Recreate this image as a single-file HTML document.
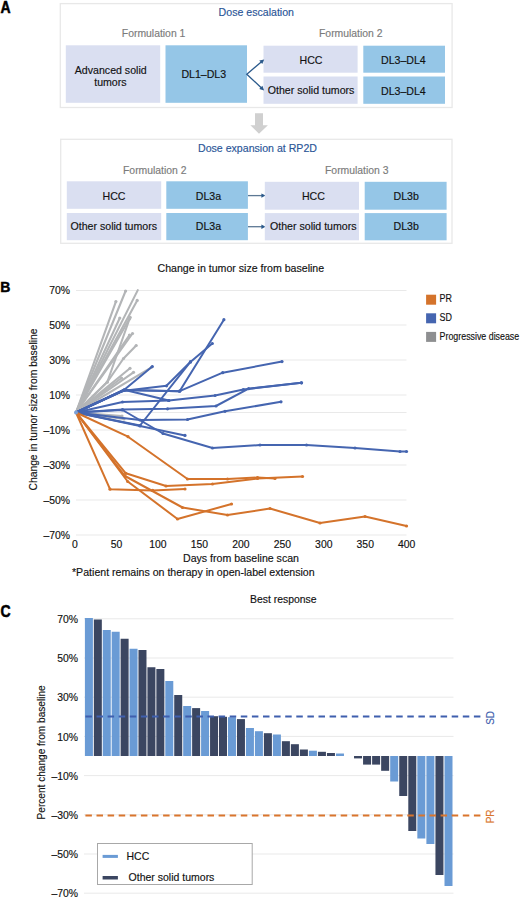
<!DOCTYPE html>
<html><head><meta charset="utf-8">
<style>
html,body{margin:0;padding:0;background:#fff;}
body{width:520px;height:900px;overflow:hidden;}
svg{display:block;font-family:"Liberation Sans",sans-serif;}
text{stroke-width:0.15px;}
</style></head><body>
<svg width="520" height="900" viewBox="0 0 520 900">
<!-- PANEL A -->
<g id="A">
<text transform="translate(0.6,12.9) scale(1,1.12)" font-size="14" font-weight="bold" fill="#000" stroke="#000" style="stroke-width:0.45px">A</text>
<rect x="60.3" y="3.6" width="391.8" height="103.9" fill="#fff" stroke="#e8e8e8" stroke-width="1.3"/>
<rect x="65.8" y="45.3" width="94.4" height="57.5" fill="#dadff1"/>
<rect x="165.5" y="45.3" width="81.5" height="57.5" fill="#95c6e7"/>
<rect x="263.5" y="45.7" width="94.1" height="27" fill="#dadff1"/>
<rect x="263.5" y="76.5" width="94.1" height="27.3" fill="#dadff1"/>
<rect x="363.3" y="45.7" width="81.7" height="27" fill="#95c6e7"/>
<rect x="363.3" y="76.5" width="81.7" height="27.3" fill="#95c6e7"/>
<text x="218.6" y="15.80" font-size="10.6" fill="#2a5597" stroke="#2a5597">Dose escalation</text>
<text x="121.8" y="36.90" font-size="10.4" fill="#7b7b7b" stroke="#7b7b7b">Formulation 1</text>
<text x="319" y="36.90" font-size="10.4" fill="#7b7b7b" stroke="#7b7b7b">Formulation 2</text>
<text x="74.8" y="74.20" font-size="10.6" fill="#111" stroke="#111">Advanced solid</text>
<text x="94.2" y="86.40" font-size="10.6" fill="#111" stroke="#111">tumors</text>
<text x="181.4" y="78.40" font-size="10.6" fill="#111" stroke="#111">DL1–DL3</text>
<text x="299.5" y="64.00" font-size="10.6" fill="#111" stroke="#111">HCC</text>
<text x="267.8" y="94.20" font-size="10.6" fill="#111" stroke="#111">Other solid tumors</text>
<text x="381" y="64.40" font-size="10.6" fill="#111" stroke="#111">DL3–DL4</text>
<text x="381" y="94.60" font-size="10.6" fill="#111" stroke="#111">DL3–DL4</text>
<g stroke="#2b5a8c" stroke-width="1.3" fill="none">
<path d="M261.5 61.7 L246.8 74.2 L261.5 87.9"/>
<line x1="248" y1="195.6" x2="262" y2="195.6" stroke="#5d7894"/>
<line x1="248" y1="226.7" x2="262" y2="226.7" stroke="#5d7894"/>
</g>
<g fill="#2b5a8c">
<polygon points="264.2,59.4 262.25,64.07 259.27,60.55"/>
<polygon points="264.1,90.4 259.24,89.01 262.38,85.65"/>
<polygon points="265.6,195.6 261.4,193.4 261.4,197.8"/>
<polygon points="265.6,226.7 261.4,224.5 261.4,228.9"/>
</g>
<path d="M255 113.3 H263 V125.2 H267.9 L259 133.8 L250.4 125.2 H255 Z" fill="#d0d0d0"/>
<rect x="60.7" y="139.3" width="391.3" height="104" fill="none" stroke="#e8e8e8" stroke-width="1.3"/>
<rect x="66.8" y="181.3" width="94.4" height="27.5" fill="#dadff1"/>
<rect x="66.8" y="213" width="94.4" height="27.2" fill="#dadff1"/>
<rect x="166.3" y="181.3" width="81.6" height="27.5" fill="#95c6e7"/>
<rect x="166.3" y="213" width="81.6" height="27.2" fill="#95c6e7"/>
<rect x="264.8" y="181.8" width="94.2" height="27.9" fill="#dadff1"/>
<rect x="264.8" y="213.1" width="94.2" height="27.2" fill="#dadff1"/>
<rect x="364.7" y="181.8" width="81.9" height="27.9" fill="#95c6e7"/>
<rect x="364.7" y="213.1" width="81.9" height="27.2" fill="#95c6e7"/>
<text x="198" y="152.00" font-size="10.6" fill="#2a5597" stroke="#2a5597">Dose expansion at RP2D</text>
<text x="123" y="173.80" font-size="10.4" fill="#7b7b7b" stroke="#7b7b7b">Formulation 2</text>
<text x="325" y="173.80" font-size="10.4" fill="#7b7b7b" stroke="#7b7b7b">Formulation 3</text>
<text x="102.5" y="200.00" font-size="10.6" fill="#111" stroke="#111">HCC</text>
<text x="70.5" y="230.00" font-size="10.6" fill="#111" stroke="#111">Other solid tumors</text>
<text x="195.75" y="200.00" font-size="10.6" fill="#111" stroke="#111">DL3a</text>
<text x="195.75" y="230.00" font-size="10.6" fill="#111" stroke="#111">DL3a</text>
<text x="301.9" y="200.00" font-size="10.6" fill="#111" stroke="#111">HCC</text>
<text x="270" y="230.00" font-size="10.6" fill="#111" stroke="#111">Other solid tumors</text>
<text x="393.5" y="199.90" font-size="10.6" fill="#111" stroke="#111">DL3b</text>
<text x="393.5" y="229.90" font-size="10.6" fill="#111" stroke="#111">DL3b</text>
</g>
<g id="B">
<text transform="translate(0.3,292.2) scale(1,1.1)" font-size="14" font-weight="bold" fill="#000" stroke="#000" style="stroke-width:0.45px">B</text>
<text x="157.5" y="271.5" font-size="10.6" fill="#111" stroke="#111">Change in tumor size from baseline</text>
<line x1="76" y1="290.5" x2="406.5" y2="290.5" stroke="#e9e9e9" stroke-width="1"/>
<line x1="76" y1="325" x2="406.5" y2="325" stroke="#e9e9e9" stroke-width="1"/>
<line x1="76" y1="360" x2="406.5" y2="360" stroke="#e9e9e9" stroke-width="1"/>
<line x1="76" y1="395" x2="406.5" y2="395" stroke="#e9e9e9" stroke-width="1"/>
<line x1="76" y1="412.5" x2="406.5" y2="412.5" stroke="#e9e9e9" stroke-width="1"/>
<line x1="76" y1="430" x2="406.5" y2="430" stroke="#e9e9e9" stroke-width="1"/>
<line x1="76" y1="465" x2="406.5" y2="465" stroke="#e9e9e9" stroke-width="1"/>
<line x1="76" y1="500" x2="406.5" y2="500" stroke="#e9e9e9" stroke-width="1"/>
<line x1="76" y1="535" x2="406.5" y2="535" stroke="#e9e9e9" stroke-width="1"/>
<text x="70" y="294.3" font-size="10.4" fill="#111" text-anchor="end" stroke="#111">70%</text>
<text x="70" y="328.8" font-size="10.4" fill="#111" text-anchor="end" stroke="#111">50%</text>
<text x="70" y="363.8" font-size="10.4" fill="#111" text-anchor="end" stroke="#111">30%</text>
<text x="70" y="398.8" font-size="10.4" fill="#111" text-anchor="end" stroke="#111">10%</text>
<text x="70" y="433.8" font-size="10.4" fill="#111" text-anchor="end" stroke="#111">–10%</text>
<text x="70" y="468.8" font-size="10.4" fill="#111" text-anchor="end" stroke="#111">–30%</text>
<text x="70" y="503.8" font-size="10.4" fill="#111" text-anchor="end" stroke="#111">–50%</text>
<text x="70" y="538.8" font-size="10.4" fill="#111" text-anchor="end" stroke="#111">–70%</text>
<text x="75.0" y="547.9" font-size="10.4" fill="#111" text-anchor="middle" stroke="#111">0</text>
<text x="116.465" y="547.9" font-size="10.4" fill="#111" text-anchor="middle" stroke="#111">50</text>
<text x="157.93" y="547.9" font-size="10.4" fill="#111" text-anchor="middle" stroke="#111">100</text>
<text x="199.395" y="547.9" font-size="10.4" fill="#111" text-anchor="middle" stroke="#111">150</text>
<text x="240.86" y="547.9" font-size="10.4" fill="#111" text-anchor="middle" stroke="#111">200</text>
<text x="282.32500000000005" y="547.9" font-size="10.4" fill="#111" text-anchor="middle" stroke="#111">250</text>
<text x="323.79" y="547.9" font-size="10.4" fill="#111" text-anchor="middle" stroke="#111">300</text>
<text x="365.255" y="547.9" font-size="10.4" fill="#111" text-anchor="middle" stroke="#111">350</text>
<text x="406.72" y="547.9" font-size="10.4" fill="#111" text-anchor="middle" stroke="#111">400</text>
<text x="241" y="561.8" font-size="10.6" fill="#111" text-anchor="middle" stroke="#111">Days from baseline scan</text>
<text x="72" y="576.3" font-size="10.6" fill="#111" stroke="#111">*Patient remains on therapy in open-label extension</text>
<text transform="translate(36.9,409.5) rotate(-90)" font-size="10.3" fill="#111" text-anchor="middle" stroke="#111">Change in tumor size from baseline</text>
<polyline points="76.0,412.5 125.6,291.0" fill="none" stroke="#b3b5b7" stroke-width="2.1" stroke-linejoin="round" stroke-linecap="round"/><circle cx="125.6" cy="291.0" r="1.6" fill="#b3b5b7"/>
<polyline points="76.0,412.5 137.8,290.1" fill="none" stroke="#b3b5b7" stroke-width="2.1" stroke-linejoin="round" stroke-linecap="round"/>
<polyline points="76.0,412.5 115.9,301.6" fill="none" stroke="#b3b5b7" stroke-width="2.1" stroke-linejoin="round" stroke-linecap="round"/><circle cx="115.9" cy="301.6" r="1.6" fill="#b3b5b7"/>
<polyline points="76.0,412.5 137.2,300.4" fill="none" stroke="#b3b5b7" stroke-width="2.1" stroke-linejoin="round" stroke-linecap="round"/><circle cx="137.2" cy="300.4" r="1.6" fill="#b3b5b7"/>
<polyline points="76.0,412.5 119.8,318.0" fill="none" stroke="#b3b5b7" stroke-width="2.1" stroke-linejoin="round" stroke-linecap="round"/><circle cx="119.8" cy="318.0" r="1.6" fill="#b3b5b7"/>
<polyline points="76.0,412.5 130.2,317.4" fill="none" stroke="#b3b5b7" stroke-width="2.1" stroke-linejoin="round" stroke-linecap="round"/><circle cx="130.2" cy="317.4" r="1.6" fill="#b3b5b7"/>
<polyline points="76.0,412.5 132.5,333.5" fill="none" stroke="#b3b5b7" stroke-width="2.1" stroke-linejoin="round" stroke-linecap="round"/><circle cx="132.5" cy="333.5" r="1.6" fill="#b3b5b7"/>
<polyline points="76.0,412.5 129.5,335.0" fill="none" stroke="#b3b5b7" stroke-width="2.1" stroke-linejoin="round" stroke-linecap="round"/><circle cx="129.5" cy="335.0" r="1.6" fill="#b3b5b7"/>
<polyline points="76.0,412.5 130.0,368.3" fill="none" stroke="#b3b5b7" stroke-width="2.1" stroke-linejoin="round" stroke-linecap="round"/><circle cx="130.0" cy="368.3" r="1.6" fill="#b3b5b7"/>
<polyline points="76.0,412.5 133.5,372.3" fill="none" stroke="#b3b5b7" stroke-width="2.1" stroke-linejoin="round" stroke-linecap="round"/><circle cx="133.5" cy="372.3" r="1.6" fill="#b3b5b7"/>
<polyline points="76.0,412.5 122.0,416.0" fill="none" stroke="#b3b5b7" stroke-width="2.1" stroke-linejoin="round" stroke-linecap="round"/><circle cx="122.0" cy="416.0" r="1.6" fill="#b3b5b7"/>
<polyline points="76.0,412.5 107.3,382.0 129.5,319.0" fill="none" stroke="#b3b5b7" stroke-width="2.1" stroke-linejoin="round" stroke-linecap="round"/><circle cx="107.3" cy="382.0" r="1.6" fill="#b3b5b7"/><circle cx="129.5" cy="319.0" r="1.6" fill="#b3b5b7"/>
<polyline points="76.0,412.5 107.3,382.0 123.5,358.5 136.2,345.5" fill="none" stroke="#b3b5b7" stroke-width="2.1" stroke-linejoin="round" stroke-linecap="round"/><circle cx="107.3" cy="382.0" r="1.6" fill="#b3b5b7"/><circle cx="123.5" cy="358.5" r="1.6" fill="#b3b5b7"/><circle cx="136.2" cy="345.5" r="1.6" fill="#b3b5b7"/>
<polyline points="76.0,412.5 151.5,367.3" fill="none" stroke="#b3b5b7" stroke-width="2.1" stroke-linejoin="round" stroke-linecap="round"/><circle cx="151.5" cy="367.3" r="1.6" fill="#b3b5b7"/>
<polyline points="76.0,412.5 124.0,419.0" fill="none" stroke="#b3b5b7" stroke-width="2.1" stroke-linejoin="round" stroke-linecap="round"/><circle cx="124.0" cy="419.0" r="1.6" fill="#b3b5b7"/>
<polyline points="76.0,412.5 121.5,378.0" fill="none" stroke="#b3b5b7" stroke-width="2.1" stroke-linejoin="round" stroke-linecap="round"/><circle cx="121.5" cy="378.0" r="1.6" fill="#b3b5b7"/>
<polyline points="76.0,412.5 124.0,390.0 152.3,366.5" fill="none" stroke="#4565b0" stroke-width="2.0" stroke-linejoin="round" stroke-linecap="round"/><circle cx="124.0" cy="390.0" r="1.6" fill="#4565b0"/><circle cx="152.3" cy="366.5" r="1.6" fill="#4565b0"/>
<polyline points="76.0,412.5 124.0,390.0 179.6,391.2 223.9,319.7" fill="none" stroke="#4565b0" stroke-width="2.0" stroke-linejoin="round" stroke-linecap="round"/><circle cx="124.0" cy="390.0" r="1.6" fill="#4565b0"/><circle cx="179.6" cy="391.2" r="1.6" fill="#4565b0"/><circle cx="223.9" cy="319.7" r="1.6" fill="#4565b0"/>
<polyline points="76.0,412.5 124.0,390.0 179.6,391.2 222.7,372.7 282.0,361.6" fill="none" stroke="#4565b0" stroke-width="2.0" stroke-linejoin="round" stroke-linecap="round"/><circle cx="124.0" cy="390.0" r="1.6" fill="#4565b0"/><circle cx="179.6" cy="391.2" r="1.6" fill="#4565b0"/><circle cx="222.7" cy="372.7" r="1.6" fill="#4565b0"/><circle cx="282.0" cy="361.6" r="1.6" fill="#4565b0"/>
<polyline points="76.0,412.5 140.0,425.5 190.4,361.9 212.3,343.5" fill="none" stroke="#4565b0" stroke-width="2.0" stroke-linejoin="round" stroke-linecap="round"/><circle cx="140.0" cy="425.5" r="1.6" fill="#4565b0"/><circle cx="190.4" cy="361.9" r="1.6" fill="#4565b0"/><circle cx="212.3" cy="343.5" r="1.6" fill="#4565b0"/>
<polyline points="76.0,412.5 122.0,391.0 166.5,385.8 190.4,361.9" fill="none" stroke="#4565b0" stroke-width="2.0" stroke-linejoin="round" stroke-linecap="round"/><circle cx="122.0" cy="391.0" r="1.6" fill="#4565b0"/><circle cx="166.5" cy="385.8" r="1.6" fill="#4565b0"/><circle cx="190.4" cy="361.9" r="1.6" fill="#4565b0"/>
<polyline points="76.0,412.5 125.0,390.0 168.8,400.5 215.0,395.5 243.4,389.5 301.5,382.8" fill="none" stroke="#4565b0" stroke-width="2.0" stroke-linejoin="round" stroke-linecap="round"/><circle cx="125.0" cy="390.0" r="1.6" fill="#4565b0"/><circle cx="168.8" cy="400.5" r="1.6" fill="#4565b0"/><circle cx="215.0" cy="395.5" r="1.6" fill="#4565b0"/><circle cx="243.4" cy="389.5" r="1.6" fill="#4565b0"/><circle cx="301.5" cy="382.8" r="1.6" fill="#4565b0"/>
<polyline points="76.0,412.5 122.5,402.0 168.8,400.5" fill="none" stroke="#4565b0" stroke-width="2.0" stroke-linejoin="round" stroke-linecap="round"/><circle cx="122.5" cy="402.0" r="1.6" fill="#4565b0"/><circle cx="168.8" cy="400.5" r="1.6" fill="#4565b0"/>
<polyline points="76.0,412.5 122.5,409.5 167.5,408.8 216.0,406.0 248.6,388.7 301.5,382.8" fill="none" stroke="#4565b0" stroke-width="2.0" stroke-linejoin="round" stroke-linecap="round"/><circle cx="122.5" cy="409.5" r="1.6" fill="#4565b0"/><circle cx="167.5" cy="408.8" r="1.6" fill="#4565b0"/><circle cx="216.0" cy="406.0" r="1.6" fill="#4565b0"/><circle cx="248.6" cy="388.7" r="1.6" fill="#4565b0"/><circle cx="301.5" cy="382.8" r="1.6" fill="#4565b0"/>
<polyline points="76.0,412.5 140.0,420.0 187.5,419.5 225.0,411.3 281.0,401.8" fill="none" stroke="#4565b0" stroke-width="2.0" stroke-linejoin="round" stroke-linecap="round"/><circle cx="140.0" cy="420.0" r="1.6" fill="#4565b0"/><circle cx="187.5" cy="419.5" r="1.6" fill="#4565b0"/><circle cx="225.0" cy="411.3" r="1.6" fill="#4565b0"/><circle cx="281.0" cy="401.8" r="1.6" fill="#4565b0"/>
<polyline points="76.0,412.5 140.0,426.0 185.0,435.4" fill="none" stroke="#4565b0" stroke-width="2.0" stroke-linejoin="round" stroke-linecap="round"/><circle cx="140.0" cy="426.0" r="1.6" fill="#4565b0"/><circle cx="185.0" cy="435.4" r="1.6" fill="#4565b0"/>
<polyline points="76.0,412.5 122.5,410.0 163.0,433.5 212.5,448.0 260.0,445.0 306.5,445.0 355.0,448.0 400.0,451.5 406.5,451.5" fill="none" stroke="#4565b0" stroke-width="2.0" stroke-linejoin="round" stroke-linecap="round"/><circle cx="122.5" cy="410.0" r="1.6" fill="#4565b0"/><circle cx="163.0" cy="433.5" r="1.6" fill="#4565b0"/><circle cx="212.5" cy="448.0" r="1.6" fill="#4565b0"/><circle cx="260.0" cy="445.0" r="1.6" fill="#4565b0"/><circle cx="306.5" cy="445.0" r="1.6" fill="#4565b0"/><circle cx="355.0" cy="448.0" r="1.6" fill="#4565b0"/><circle cx="400.0" cy="451.5" r="1.6" fill="#4565b0"/><circle cx="406.5" cy="451.5" r="1.6" fill="#4565b0"/>
<polyline points="76.0,412.5 128.0,436.7 187.5,479.0 227.5,479.0 257.5,477.5 275.0,478.5" fill="none" stroke="#d4732b" stroke-width="2.0" stroke-linejoin="round" stroke-linecap="round"/><circle cx="128.0" cy="436.7" r="1.6" fill="#d4732b"/><circle cx="187.5" cy="479.0" r="1.6" fill="#d4732b"/><circle cx="227.5" cy="479.0" r="1.6" fill="#d4732b"/><circle cx="257.5" cy="477.5" r="1.6" fill="#d4732b"/><circle cx="275.0" cy="478.5" r="1.6" fill="#d4732b"/>
<polyline points="76.0,412.5 110.0,489.2 152.7,490.4 185.0,489.0" fill="none" stroke="#d4732b" stroke-width="2.0" stroke-linejoin="round" stroke-linecap="round"/><circle cx="110.0" cy="489.2" r="1.6" fill="#d4732b"/><circle cx="152.7" cy="490.4" r="1.6" fill="#d4732b"/><circle cx="185.0" cy="489.0" r="1.6" fill="#d4732b"/>
<polyline points="76.0,412.5 125.8,473.3 166.0,486.0 212.5,484.0 257.5,478.5 302.5,476.5" fill="none" stroke="#d4732b" stroke-width="2.0" stroke-linejoin="round" stroke-linecap="round"/><circle cx="125.8" cy="473.3" r="1.6" fill="#d4732b"/><circle cx="166.0" cy="486.0" r="1.6" fill="#d4732b"/><circle cx="212.5" cy="484.0" r="1.6" fill="#d4732b"/><circle cx="257.5" cy="478.5" r="1.6" fill="#d4732b"/><circle cx="302.5" cy="476.5" r="1.6" fill="#d4732b"/>
<polyline points="76.0,412.5 127.7,481.5 177.5,519.0 231.5,504.0" fill="none" stroke="#d4732b" stroke-width="2.0" stroke-linejoin="round" stroke-linecap="round"/><circle cx="127.7" cy="481.5" r="1.6" fill="#d4732b"/><circle cx="177.5" cy="519.0" r="1.6" fill="#d4732b"/><circle cx="231.5" cy="504.0" r="1.6" fill="#d4732b"/>
<polyline points="76.0,412.5 125.0,476.0 182.5,507.5 227.5,515.0 270.0,508.5 320.0,523.0 365.0,516.5 406.5,526.0" fill="none" stroke="#d4732b" stroke-width="2.0" stroke-linejoin="round" stroke-linecap="round"/><circle cx="125.0" cy="476.0" r="1.6" fill="#d4732b"/><circle cx="182.5" cy="507.5" r="1.6" fill="#d4732b"/><circle cx="227.5" cy="515.0" r="1.6" fill="#d4732b"/><circle cx="270.0" cy="508.5" r="1.6" fill="#d4732b"/><circle cx="320.0" cy="523.0" r="1.6" fill="#d4732b"/><circle cx="365.0" cy="516.5" r="1.6" fill="#d4732b"/><circle cx="406.5" cy="526.0" r="1.6" fill="#d4732b"/>
<circle cx="76" cy="412.5" r="2" fill="#7aa0d8"/>
<rect x="426.1" y="294.7" width="10" height="10" fill="#d4732b"/><text x="439.6" y="302.4" font-size="10.2" fill="#111" textLength="12.4" lengthAdjust="spacingAndGlyphs" stroke="#111">PR</text>
<rect x="426.1" y="313.3" width="10" height="10" fill="#4565b0"/><text x="439.6" y="321.0" font-size="10.2" fill="#111" textLength="12.4" lengthAdjust="spacingAndGlyphs" stroke="#111">SD</text>
<rect x="426.1" y="331.9" width="10" height="10" fill="#8e8f91"/><text x="439.6" y="339.6" font-size="10.0" fill="#111" textLength="79.6" lengthAdjust="spacingAndGlyphs" stroke="#111">Progressive disease</text>
</g>
<g id="C">
<text transform="translate(0.6,616.5) scale(1,1.16)" font-size="14" font-weight="bold" fill="#000" stroke="#000" style="stroke-width:0.45px">C</text>
<text x="283.3" y="603.1" font-size="10.4" fill="#111" text-anchor="middle" stroke="#111">Best response</text>
<line x1="84" y1="618.8" x2="453.5" y2="618.8" stroke="#e9e9e9" stroke-width="1"/>
<text x="78" y="623.0" font-size="10.4" fill="#111" text-anchor="end" stroke="#111">70%</text>
<line x1="84" y1="658.0" x2="453.5" y2="658.0" stroke="#e9e9e9" stroke-width="1"/>
<text x="78" y="662.2" font-size="10.4" fill="#111" text-anchor="end" stroke="#111">50%</text>
<line x1="84" y1="697.2" x2="453.5" y2="697.2" stroke="#e9e9e9" stroke-width="1"/>
<text x="78" y="701.4" font-size="10.4" fill="#111" text-anchor="end" stroke="#111">30%</text>
<line x1="84" y1="736.4" x2="453.5" y2="736.4" stroke="#e9e9e9" stroke-width="1"/>
<text x="78" y="740.6" font-size="10.4" fill="#111" text-anchor="end" stroke="#111">10%</text>
<line x1="84" y1="775.6" x2="453.5" y2="775.6" stroke="#e9e9e9" stroke-width="1"/>
<text x="78" y="779.8" font-size="10.4" fill="#111" text-anchor="end" stroke="#111">–10%</text>
<line x1="84" y1="814.8" x2="453.5" y2="814.8" stroke="#e9e9e9" stroke-width="1"/>
<text x="78" y="819.0" font-size="10.4" fill="#111" text-anchor="end" stroke="#111">–30%</text>
<line x1="84" y1="854.0" x2="453.5" y2="854.0" stroke="#e9e9e9" stroke-width="1"/>
<text x="78" y="858.2" font-size="10.4" fill="#111" text-anchor="end" stroke="#111">–50%</text>
<line x1="84" y1="893.2" x2="453.5" y2="893.2" stroke="#e9e9e9" stroke-width="1"/>
<text x="78" y="897.4" font-size="10.4" fill="#111" text-anchor="end" stroke="#111">–70%</text>
<text transform="translate(45.4,752.4) rotate(-90)" font-size="10.1" fill="#111" text-anchor="middle" stroke="#111">Percent change from baseline</text>
<rect x="84.90" y="618" width="8.0" height="138.00" fill="#6a9bd5"/>
<rect x="93.83" y="619.5" width="8.0" height="136.50" fill="#3b4661"/>
<rect x="102.75" y="630" width="8.0" height="126.00" fill="#6a9bd5"/>
<rect x="111.68" y="631.75" width="8.0" height="124.25" fill="#6a9bd5"/>
<rect x="120.61" y="638.75" width="8.0" height="117.25" fill="#3b4661"/>
<rect x="129.54" y="648.75" width="8.0" height="107.25" fill="#6a9bd5"/>
<rect x="138.48" y="650" width="8.0" height="106.00" fill="#3b4661"/>
<rect x="147.41" y="667.25" width="8.0" height="88.75" fill="#3b4661"/>
<rect x="156.35" y="669" width="8.0" height="87.00" fill="#3b4661"/>
<rect x="165.29" y="681" width="8.0" height="75.00" fill="#6a9bd5"/>
<rect x="174.23" y="695" width="8.0" height="61.00" fill="#3b4661"/>
<rect x="183.18" y="706" width="8.0" height="50.00" fill="#6a9bd5"/>
<rect x="192.13" y="708.1" width="8.0" height="47.90" fill="#3b4661"/>
<rect x="201.09" y="711" width="8.0" height="45.00" fill="#6a9bd5"/>
<rect x="210.05" y="716.2" width="8.0" height="39.80" fill="#3b4661"/>
<rect x="219.01" y="716.8" width="8.0" height="39.20" fill="#3b4661"/>
<rect x="227.98" y="717.2" width="8.0" height="38.80" fill="#6a9bd5"/>
<rect x="236.95" y="719.1" width="8.0" height="36.90" fill="#3b4661"/>
<rect x="245.93" y="728" width="8.0" height="28.00" fill="#6a9bd5"/>
<rect x="254.91" y="731.2" width="8.0" height="24.80" fill="#6a9bd5"/>
<rect x="263.90" y="733.2" width="8.0" height="22.80" fill="#3b4661"/>
<rect x="272.89" y="734.5" width="8.0" height="21.50" fill="#6a9bd5"/>
<rect x="281.89" y="741.2" width="8.0" height="14.80" fill="#3b4661"/>
<rect x="290.89" y="744.2" width="8.0" height="11.80" fill="#3b4661"/>
<rect x="299.90" y="749.5" width="8.0" height="6.50" fill="#3b4661"/>
<rect x="308.91" y="750.7" width="8.0" height="5.30" fill="#6a9bd5"/>
<rect x="317.93" y="751.8" width="8.0" height="4.20" fill="#3b4661"/>
<rect x="326.95" y="753" width="8.0" height="3.00" fill="#3b4661"/>
<rect x="335.97" y="753.5" width="8.0" height="2.50" fill="#6a9bd5"/>
<rect x="354.03" y="756" width="8.0" height="2.40" fill="#3b4661"/>
<rect x="363.07" y="756" width="8.0" height="8.60" fill="#3b4661"/>
<rect x="372.11" y="756" width="8.0" height="8.60" fill="#3b4661"/>
<rect x="381.15" y="756" width="8.0" height="14.80" fill="#3b4661"/>
<rect x="390.20" y="756" width="8.0" height="25.50" fill="#6a9bd5"/>
<rect x="399.24" y="756" width="8.0" height="40.00" fill="#3b4661"/>
<rect x="408.29" y="756" width="8.0" height="75.00" fill="#3b4661"/>
<rect x="417.34" y="756" width="8.0" height="82.50" fill="#6a9bd5"/>
<rect x="426.39" y="756" width="8.0" height="88.00" fill="#6a9bd5"/>
<rect x="435.45" y="756" width="8.0" height="119.00" fill="#3b4661"/>
<rect x="444.50" y="756" width="8.0" height="130.00" fill="#6a9bd5"/>
<line x1="480.4" y1="716.5" x2="83" y2="716.5" stroke="#3f5fae" stroke-width="2" stroke-dasharray="6.5 4.6"/>
<line x1="480.4" y1="815.5" x2="83" y2="815.5" stroke="#d9752d" stroke-width="2" stroke-dasharray="6.5 4.6"/>
<text transform="translate(494.0,717.9) rotate(-90)" font-size="10" fill="#3f5fae" text-anchor="middle" stroke="#3f5fae">SD</text>
<text transform="translate(494.0,816.4) rotate(-90)" font-size="10" fill="#d9752d" text-anchor="middle" stroke="#d9752d">PR</text>
<rect x="97.5" y="843.5" width="154.7" height="41" fill="#fff" stroke="#a8a8a8" stroke-width="1"/>
<rect x="102.6" y="854.9" width="15.3" height="3" fill="#6a9bd5"/>
<rect x="102.6" y="876" width="15.3" height="3.5" fill="#3b4661"/>
<text x="126.5" y="859.7" font-size="10.5" fill="#111" stroke="#111">HCC</text>
<text x="128.6" y="880.8" font-size="10.5" fill="#111" stroke="#111">Other solid tumors</text>
</g>
</svg>
</body></html>
